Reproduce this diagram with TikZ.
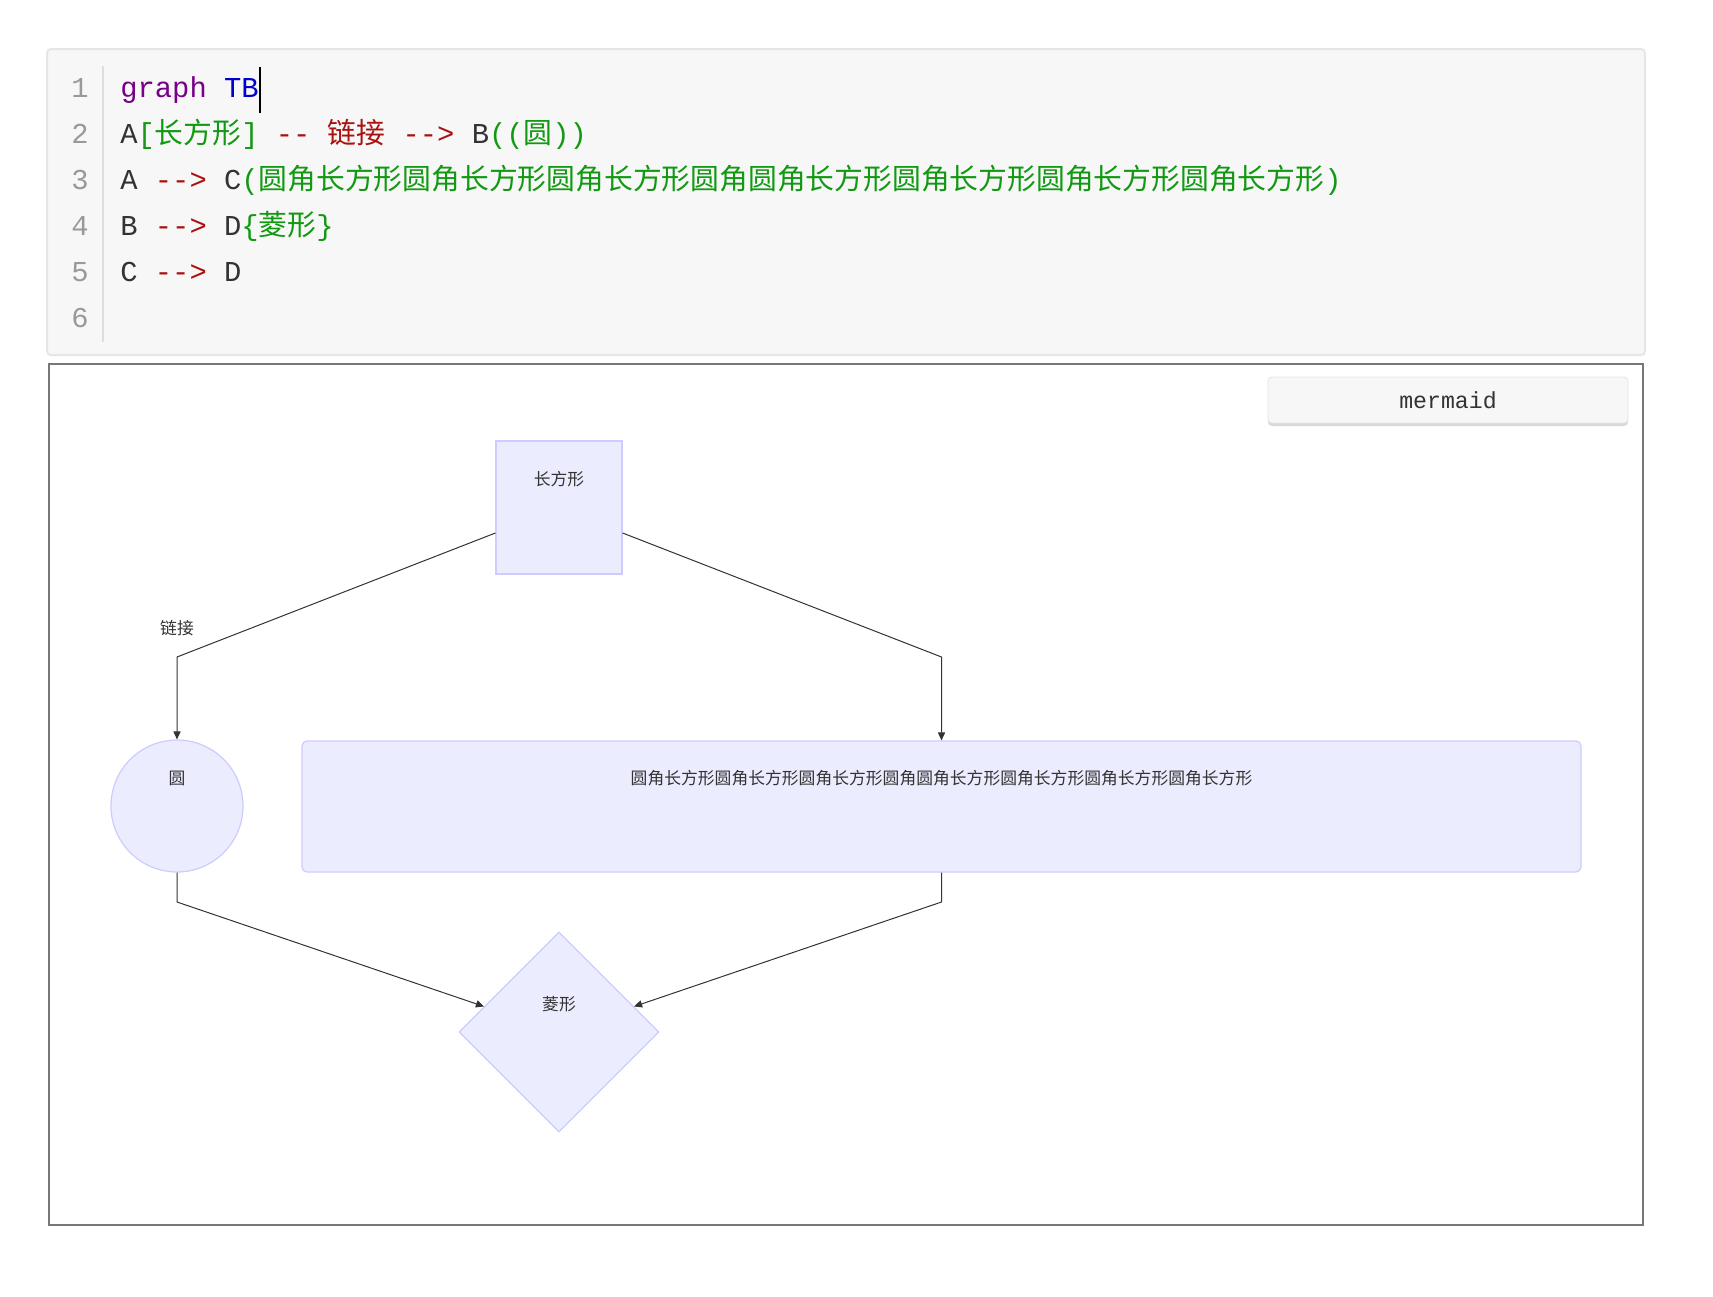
\documentclass[tikz,border=0pt]{standalone}
\usepackage{fontspec}
\setmainfont{Liberation Sans}
\setmonofont{Liberation Mono}
\newfontfamily\cjk{Noto Sans CJK SC}
\usetikzlibrary{shapes.geometric,arrows.meta,calc}

\definecolor{edfill}{HTML}{F7F7F7}
\definecolor{edline}{HTML}{E4E6E8}
\definecolor{gutline}{HTML}{DDDDDD}
\definecolor{numgray}{HTML}{999999}
\definecolor{kwpurple}{HTML}{770088}
\definecolor{kwblue}{HTML}{0000CC}
\definecolor{strgreen}{HTML}{119911}
\definecolor{oprd}{HTML}{AA1111}
\definecolor{idc}{HTML}{333333}
\definecolor{framegray}{HTML}{777777}
\definecolor{nodefill}{HTML}{ECECFF}
\definecolor{nodeline}{HTML}{CCCCFF}

\tikzset{
  codeline/.style={anchor=base west, inner sep=0pt, text=idc, font=\ttfamily\fontsize{14.4}{17}\selectfont},
  lnum/.style={anchor=base, inner sep=0pt, text=numgray, font=\ttfamily\fontsize{14.4}{17}\selectfont},
  shapebox/.style={draw=nodeline, fill=nodefill, line width=0.6pt, inner sep=0pt},
  lbl/.style={anchor=center, yshift=14pt, inner sep=0pt, text=idc, font=\cjk\fontsize{8.4}{10}\selectfont},
  flow/.style={draw=idc, line width=0.5pt, -{Triangle[length=4pt,width=3.6pt]}},
  button/.style={draw=edline, fill=edfill, rounded corners=2pt, minimum width=180pt, minimum height=23pt, text=idc, font=\ttfamily\fontsize{11.6}{14}\selectfont},
}

\begin{document}
\begin{tikzpicture}[x=0.5pt,y=-0.5pt]
\fill[white] (0,0) rectangle (1713,1296);
\useasboundingbox (0,0) rectangle (1713,1296);

% editor
\draw[edline, fill=edfill, line width=1pt, rounded corners=2pt] (47,49) rectangle (1645,355);
\draw[gutline, line width=1pt] (103,66) -- (103,342);
\foreach \n in {1,...,6}
  \node[lnum] (num\n) at (80,{97+46*(\n-1)}) {\n};
\node[codeline] (code1) at (120,97) {\textcolor{kwpurple}{graph} \textcolor{kwblue}{TB}};
\node[codeline] (code2) at (120,143) {A\textcolor{strgreen}{[{\cjk 长方形}]} \textcolor{oprd}{-{}- {\cjk 链接} -{}->} B\textcolor{strgreen}{(({\cjk 圆}))}};
\node[codeline] (code3) at (120,189) {A \textcolor{oprd}{-{}->} C\textcolor{strgreen}{({\cjk 圆角长方形圆角长方形圆角长方形圆角圆角长方形圆角长方形圆角长方形圆角长方形})}};
\node[codeline] (code4) at (120,235) {B \textcolor{oprd}{-{}->} D\textcolor{strgreen}{\{{\cjk 菱形}\}}};
\node[codeline] (code5) at (120,281) {C \textcolor{oprd}{-{}->} D};
\draw[black, line width=0.8pt] (260,67) -- (260,113);

% diagram
\draw[framegray, line width=1pt] (49,364) rectangle (1643,1225);
\fill[black!15, rounded corners=2pt] (1268,381) rectangle (1628,426);
\node[button] (btn) at (1448,400) {mermaid};

\node[shapebox, minimum width=63pt, minimum height=66.5pt, label={[lbl]center:长方形}] (A) at (559,507.5) {};
\node[shapebox, circle, minimum size=66pt, label={[lbl]center:圆}] (B) at (177,806) {};
\node[shapebox, rounded corners=2.5pt, minimum width=639.5pt, minimum height=65.5pt,
  label={[lbl]center:圆角长方形圆角长方形圆角长方形圆角圆角长方形圆角长方形圆角长方形圆角长方形}] (C) at (941.5,806.5) {};
\node[shapebox, diamond, minimum width=100pt, minimum height=100pt, label={[lbl]center:菱形}] (D) at (559,1032) {};

\coordinate (AB) at (177,657);
\coordinate (AC) at (941.5,657);
\coordinate (BD) at (177,902);
\coordinate (CD) at (941.5,902);

\draw[flow] ($(A.west)+(0,25.5)$) -- (AB) node[lbl, yshift=0.5pt] (lk) {链接} -- (B);
\draw[flow] ($(A.east)+(0,25.5)$) -- (AC) -- (C);
\draw[flow] (B) -- (BD) -- (D);
\draw[flow] (C) -- (CD) -- (D);
\end{tikzpicture}
\end{document}
